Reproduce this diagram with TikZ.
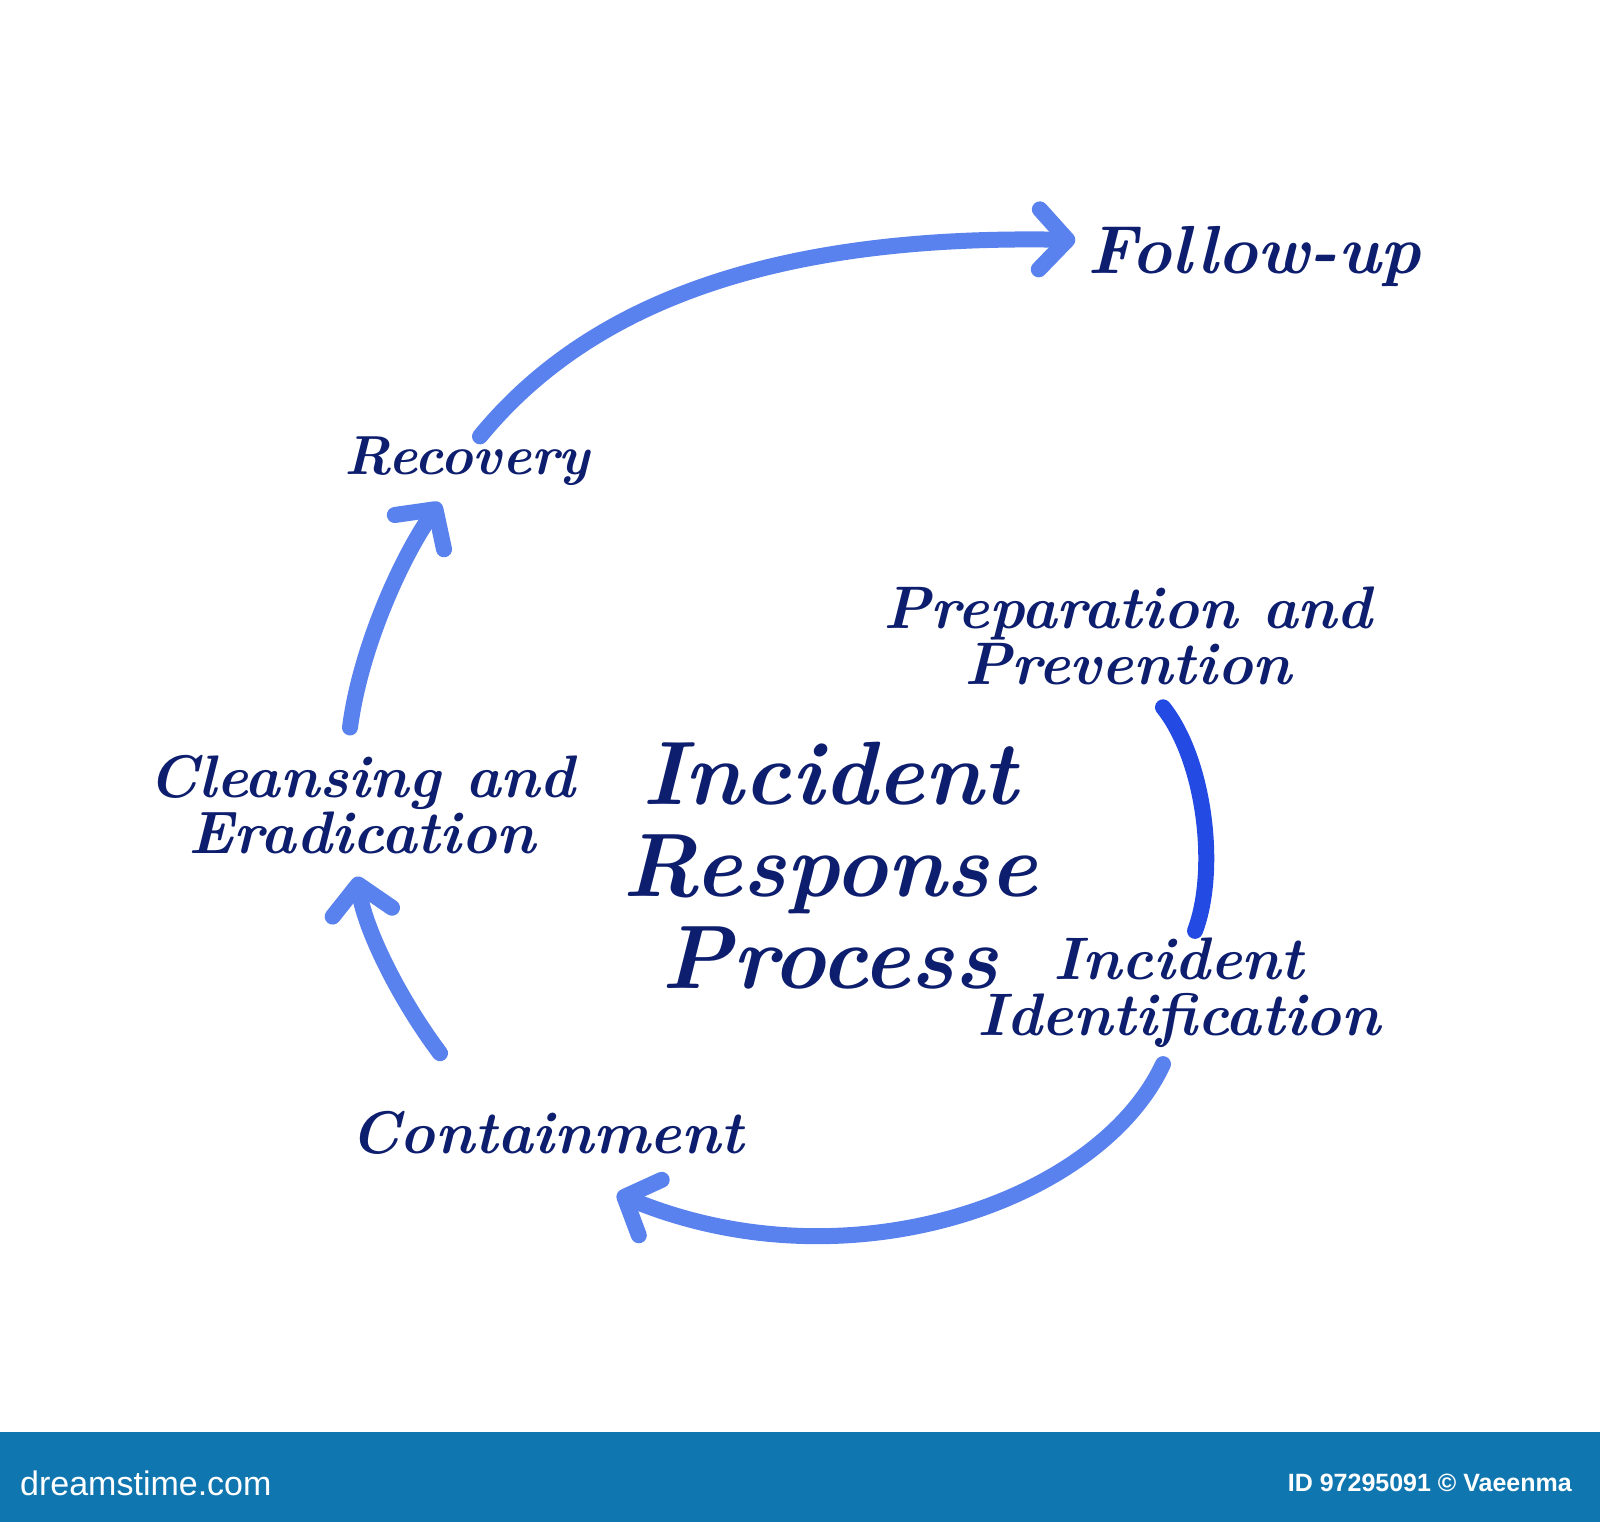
\documentclass[tikz,border=0pt]{standalone}
\usepackage{fontspec}
\usetikzlibrary{arrows.meta}
\newfontfamily\barfont{Liberation Sans}
\definecolor{ink}{RGB}{14,30,110}
\definecolor{arw}{RGB}{90,130,238}
\definecolor{arwdk}{RGB}{35,75,228}
\definecolor{bar}{RGB}{16,118,175}

\begin{document}
\begin{tikzpicture}[x=1pt,y=-1pt,>={Straight Barb[length=28pt,width=60pt,round]},
  lbl/.style={text=ink,inner sep=0pt,align=center,font=\bfseries\itshape\fontsize{60}{56}\selectfont},
  big/.style={lbl,font=\bfseries\itshape\fontsize{90}{92}\selectfont},
  flow/.style={->,arw,line width=16pt,line cap=round},
  link/.style={arwdk,line width=16pt,line cap=round},
  tag/.style={text=white,inner sep=0pt,font=\barfont\fontsize{34}{36}\selectfont}]
  \fill[white] (0,0) rectangle (1600,1522);
  \useasboundingbox (0,0) rectangle (1600,1522);
  % stages
  \node[big] (irp) at (830,866) {Incident\\Response\\Process};
  \node[lbl,font=\bfseries\itshape\fontsize{68}{68}\selectfont] (fup) at (1254,256) {Follow-up};
  \node[lbl,font=\bfseries\itshape\fontsize{55}{56}\selectfont] (rec) at (467,461) {Recovery};
  \node[lbl] (cln) at (362,805) {Cleansing and\\Eradication};
  \node[lbl] (prp) at (1128,636) {Preparation and\\Prevention};
  \node[lbl] (idn) at (1179,993) {Incident\\Identification};
  \node[lbl] (cnt) at (547,1133) {Containment};
  % cycle
  \draw[link] ([xshift=35pt,yshift=-22pt]prp.south) .. controls (1205,760) and (1218,870) .. ([xshift=16pt,yshift=7pt]idn.north);
  \draw[flow] ([xshift=-16pt,yshift=-16pt]idn.south) .. controls (1100,1200) and (850,1290) .. ([xshift=70pt,yshift=-39pt]cnt.south);
  \draw[flow] ([xshift=-107pt,yshift=58pt]cnt.north) .. controls (400,1000) and (365,930) .. ([xshift=-5pt,yshift=-22pt]cln.south);
  \draw[flow] ([xshift=-12pt,yshift=28pt]cln.north) .. controls (360,650) and (400,560) .. ([xshift=-27pt,yshift=-17pt]rec.south);
  \draw[flow] ([xshift=13pt]rec.north) .. controls (600,290) and (800,235) .. ([xshift=-12pt,yshift=16pt]fup.west);
  % footer
  \fill[bar] (0,1432) rectangle (1600,1522);
  \node[tag,anchor=west] (site) at (20,1483) {dreamstime.com};
  \node[tag,anchor=east,font=\barfont\bfseries\fontsize{25}{27}\selectfont] (id) at (1572,1483) {ID 97295091 © Vaeenma};
\end{tikzpicture}
\end{document}
